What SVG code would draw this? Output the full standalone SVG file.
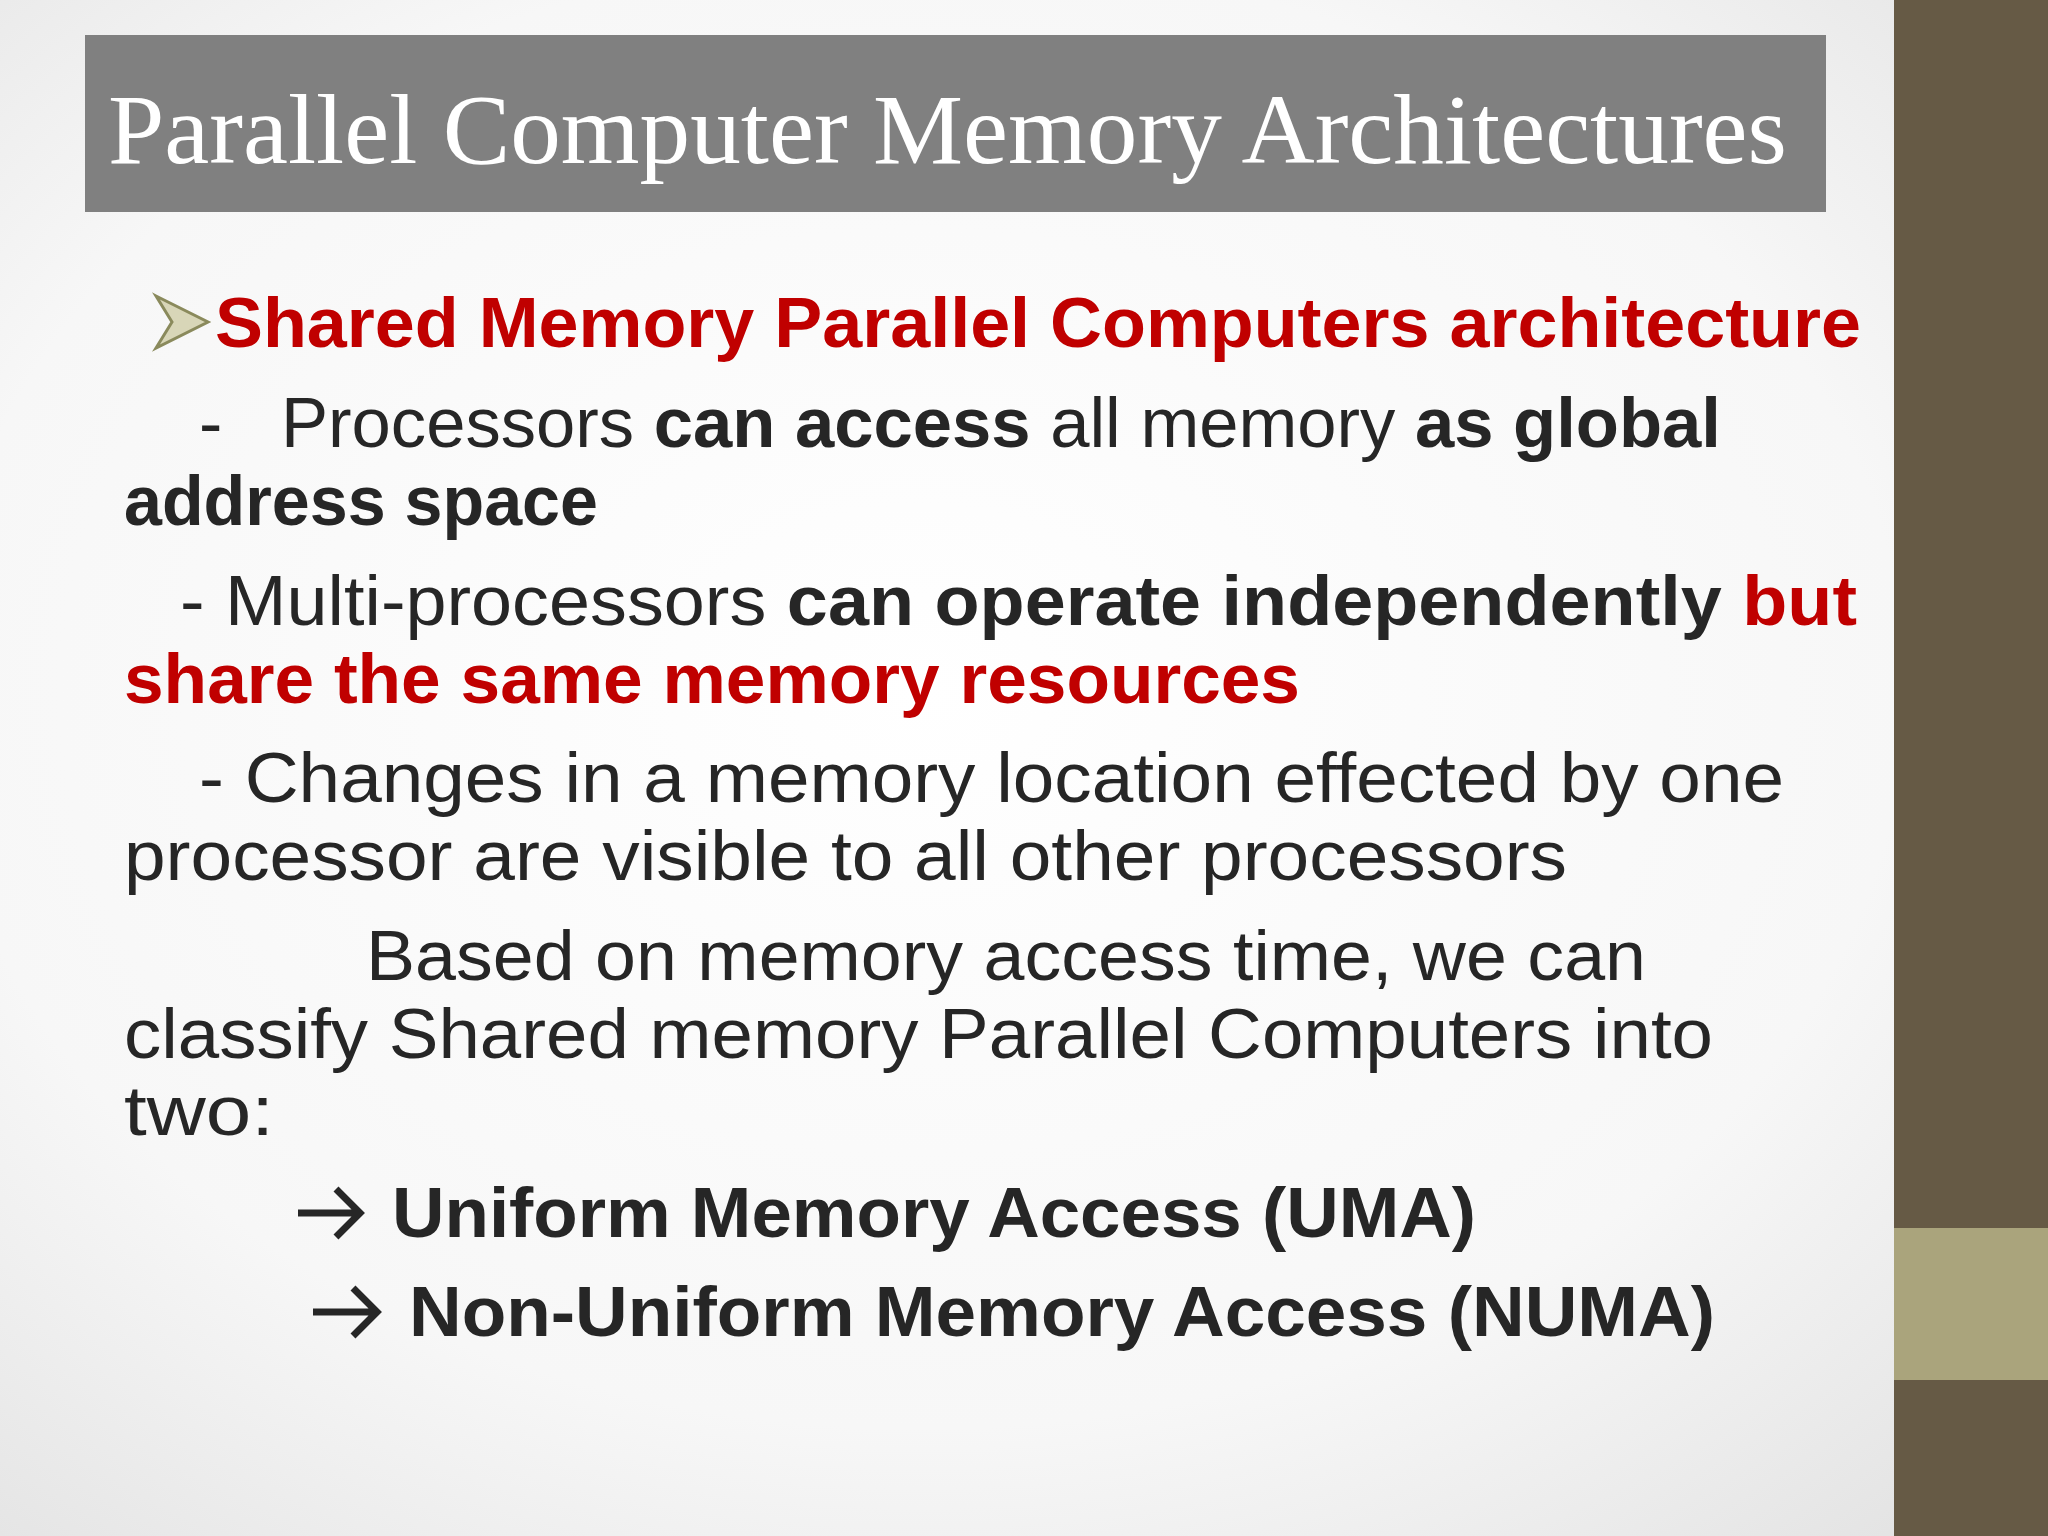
<svg xmlns="http://www.w3.org/2000/svg" width="2048" height="1536" viewBox="0 0 2048 1536">
<defs>
<radialGradient id="bg" cx="0.45" cy="0.45" r="0.8">
<stop offset="0" stop-color="#ffffff"/><stop offset="0.6" stop-color="#f7f7f7"/><stop offset="1" stop-color="#dedede"/>
</radialGradient>
<style>
.t{font-family:"Liberation Sans","Open Sans",sans-serif;font-size:70px;fill:#262626}
.b{font-weight:bold}
.r{fill:#c00000;font-weight:bold}
.a{fill:none;stroke:#262626;stroke-width:7}
</style>
</defs>
<rect x="0" y="0" width="2048" height="1536" fill="url(#bg)"/>
<rect x="1894" y="0" width="154" height="1536" fill="#665a45"/>
<rect x="1894" y="1228" width="154" height="152" fill="#aaa47c"/>
<g id="title">
<rect x="85" y="35" width="1741" height="177" fill="#808080"/>
<text x="108" y="163" font-family="Liberation Serif, serif" font-size="100" fill="#ffffff" textLength="1679" lengthAdjust="spacingAndGlyphs">Parallel Computer Memory Architectures</text>
</g>
<polygon points="156,296 208,322 156,348 172,322" fill="#d8d6b8" stroke="#8a8a5c" stroke-width="3"/>
<text class="t r" x="215" y="347" textLength="1646" lengthAdjust="spacingAndGlyphs">Shared Memory Parallel Computers architecture</text>
<text class="t" x="199" y="447">-</text>
<text class="t" x="281" y="447" textLength="1440" lengthAdjust="spacingAndGlyphs">Processors <tspan class="b">can access</tspan> all memory <tspan class="b">as global</tspan></text>
<text class="t b" x="124" y="525" textLength="474" lengthAdjust="spacingAndGlyphs">address space</text>
<text class="t" x="180" y="625" textLength="1677" lengthAdjust="spacingAndGlyphs">- Multi-processors <tspan class="b">can operate independently</tspan> <tspan class="r">but</tspan></text>
<text class="t r" x="124" y="703" textLength="1176" lengthAdjust="spacingAndGlyphs">share the same memory resources</text>
<text class="t" x="199" y="802" textLength="1585" lengthAdjust="spacingAndGlyphs">- Changes in a memory location effected by one</text>
<text class="t" x="124" y="880" textLength="1443" lengthAdjust="spacingAndGlyphs">processor are visible to all other processors</text>
<text class="t" x="366" y="980" textLength="1280" lengthAdjust="spacingAndGlyphs">Based on memory access time, we can</text>
<text class="t" x="124" y="1058" textLength="1589" lengthAdjust="spacingAndGlyphs">classify Shared memory Parallel Computers into</text>
<text class="t" x="124" y="1135" textLength="150" lengthAdjust="spacingAndGlyphs">two:</text>
<path class="a" d="M298,1213 H358 M336,1189 L360,1213 L336,1237"/>
<text class="t b" x="392" y="1237" textLength="1084" lengthAdjust="spacingAndGlyphs">Uniform Memory Access (UMA)</text>
<path class="a" d="M313,1312 H375 M353,1288 L377,1312 L353,1336"/>
<text class="t b" x="409" y="1336" textLength="1306" lengthAdjust="spacingAndGlyphs">Non-Uniform Memory Access (NUMA)</text>
</svg>
